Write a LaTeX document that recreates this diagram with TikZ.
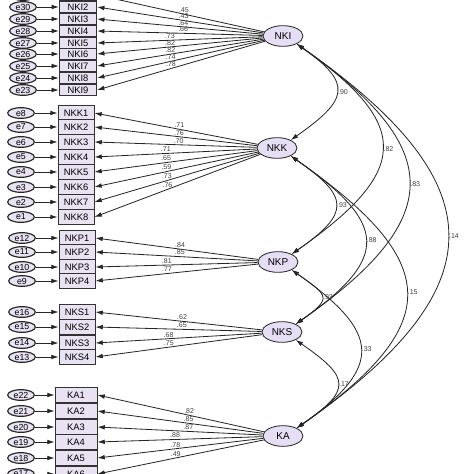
\documentclass[tikz,border=0pt]{standalone}
\usepackage{fontspec}
\setmainfont{Liberation Sans}
\usetikzlibrary{arrows.meta,shapes.geometric}
\definecolor{lavbox}{RGB}{232,226,242}
\definecolor{lavlat}{RGB}{230,222,244}
\tikzset{
	obs/.style={draw=black!80, line width=0.7pt, fill=lavbox, minimum width=1.08cm, minimum height=0.43cm, inner sep=1pt, font=\fontsize{8}{8}\selectfont},
	shortobs/.style={minimum width=1.12cm, minimum height=0.34cm},
	wideobs/.style={minimum width=1.26cm, minimum height=0.46cm},
	err/.style={ellipse, draw=black!85, line width=1pt, fill=lavbox, minimum width=0.8cm, minimum height=0.32cm, inner sep=0.5pt, font=\fontsize{7.5}{7.5}\selectfont},
	latent/.style={ellipse, draw=black!85, line width=0.7pt, fill=lavlat, minimum width=1.2cm, minimum height=0.62cm, inner sep=0pt, font=\fontsize{8.5}{8.5}\selectfont},
	arr/.style={->, line width=0.7pt, draw=black!85},
	cov/.style={<->, line width=0.7pt, draw=black!85},
	coef/.style={inner sep=1pt, text=black!75, font=\fontsize{6}{6}\selectfont},
}
\def\indicator[#1](#2)#3#4#5#6#7{%
	\node[obs,#1] (#3) at (#2) {#3};
	\node[err] (#4) at ([xshift=-1.65cm]#3.center) {#4};
	\draw[arr] (#4) -- (#3);
	\draw[arr] (#5) -- node[coef,above,pos=#6] {#7} (#3.east);
}

\begin{document}
\begin{tikzpicture}[x=0.03cm, y=-0.03cm, >={Latex[length=2.2mm,width=1.4mm]}]
		%%%%% START %%%%%
		\useasboundingbox (0,0) rectangle (474,474);
		\clip (0,0) rectangle (474,474);
		
		\node[latent] (NKI) at (283,36) {NKI};
		\node[latent] (NKK) at (277,148) {NKK};
		\node[latent] (NKP) at (278,262) {NKP};
		\node[latent] (NKS) at (282,332) {NKS};
		\node[latent] (KA) at (283,436) {KA};
		
		\indicator[shortobs](78,-5){NKI1}{e31}{NKI}{.48}{.45}
		\indicator[shortobs](78,7){NKI2}{e30}{NKI}{.48}{.43}
		\indicator[shortobs](78,19){NKI3}{e29}{NKI}{.48}{.64}
		\indicator[shortobs](78,31){NKI4}{e28}{NKI}{.48}{.66}
		\indicator[shortobs](78,43){NKI5}{e27}{NKI}{.56}{.73}
		\indicator[shortobs](78,54){NKI6}{e26}{NKI}{.56}{.82}
		\indicator[shortobs](78,66){NKI7}{e25}{NKI}{.56}{.82}
		\indicator[shortobs](78,78){NKI8}{e24}{NKI}{.56}{.74}
		\indicator[shortobs](78,90){NKI9}{e23}{NKI}{.56}{.78}
		
		\indicator[](76,113){NKK1}{e8}{NKK}{.48}{.71}
		\indicator[](76,127){NKK2}{e7}{NKK}{.48}{.76}
		\indicator[](76,142){NKK3}{e6}{NKK}{.48}{.70}
		\indicator[](76,157){NKK4}{e5}{NKK}{.56}{.71}
		\indicator[](76,172){NKK5}{e4}{NKK}{.56}{.65}
		\indicator[](76,187){NKK6}{e3}{NKK}{.56}{.59}
		\indicator[](76,202){NKK7}{e2}{NKK}{.56}{.73}
		\indicator[](76,217){NKK8}{e1}{NKK}{.56}{.76}
		
		\indicator[](77,238){NKP1}{e12}{NKP}{.48}{.84}
		\indicator[](77,252){NKP2}{e11}{NKP}{.48}{.85}
		\indicator[](77,267){NKP3}{e10}{NKP}{.56}{.81}
		\indicator[](77,281){NKP4}{e9}{NKP}{.56}{.77}
		
		\indicator[](77,312){NKS1}{e16}{NKS}{.48}{.62}
		\indicator[](77,327){NKS2}{e15}{NKS}{.48}{.65}
		\indicator[](77,343){NKS3}{e14}{NKS}{.56}{.68}
		\indicator[](77,357){NKS4}{e13}{NKS}{.56}{.75}
		
		\indicator[wideobs](76,395){KA1}{e22}{KA}{.45}{.82}
		\indicator[wideobs](76,411){KA2}{e21}{KA}{.45}{.85}
		\indicator[wideobs](76,427){KA3}{e20}{KA}{.45}{.87}
		\indicator[wideobs](76,442){KA4}{e19}{KA}{.53}{.88}
		\indicator[wideobs](76,458){KA5}{e18}{KA}{.53}{.78}
		\indicator[wideobs](76,474){KA6}{e17}{KA}{.53}{.49}
		
		% correlations
		\draw[cov] (NKI.-30) .. controls +(57,40) and +(57,-40) .. node[coef,right,pos=0.5] {.90} (NKK.30);
		\draw[cov] (NKI.-30) .. controls +(117,82) and +(117,-82) .. node[coef,right,pos=0.5] {.82} (NKP.30);
		\draw[cov] (NKI.-30) .. controls +(150,105) and +(150,-105) .. node[coef,right,pos=0.5] {.83} (NKS.30);
		\draw[cov] (NKI.-30) .. controls +(201,140) and +(201,-140) .. node[coef,right,pos=0.5] {.14} (KA.30);
		\draw[cov] (NKK.-30) .. controls +(59,41) and +(59,-41) .. node[coef,right,pos=0.5] {.93} (NKP.30);
		\draw[cov] (NKK.-30) .. controls +(96,67) and +(96,-67) .. node[coef,right,pos=0.5] {.88} (NKS.30);
		\draw[cov] (NKK.-30) .. controls +(150,105) and +(150,-105) .. node[coef,right,pos=0.5] {.15} (KA.30);
		\draw[cov] (NKP.-30) .. controls +(37,26) and +(37,-26) .. node[coef,right,pos=0.5] {.93} (NKS.30);
		\draw[cov] (NKP.-30) .. controls +(88,62) and +(88,-62) .. node[coef,right,pos=0.5] {.33} (KA.30);
		\draw[cov] (NKS.-30) .. controls +(55,38) and +(55,-38) .. node[coef,right,pos=0.5] {.17} (KA.30);
		
		%%%%% END %%%%%
	\end{tikzpicture}
\end{document}
